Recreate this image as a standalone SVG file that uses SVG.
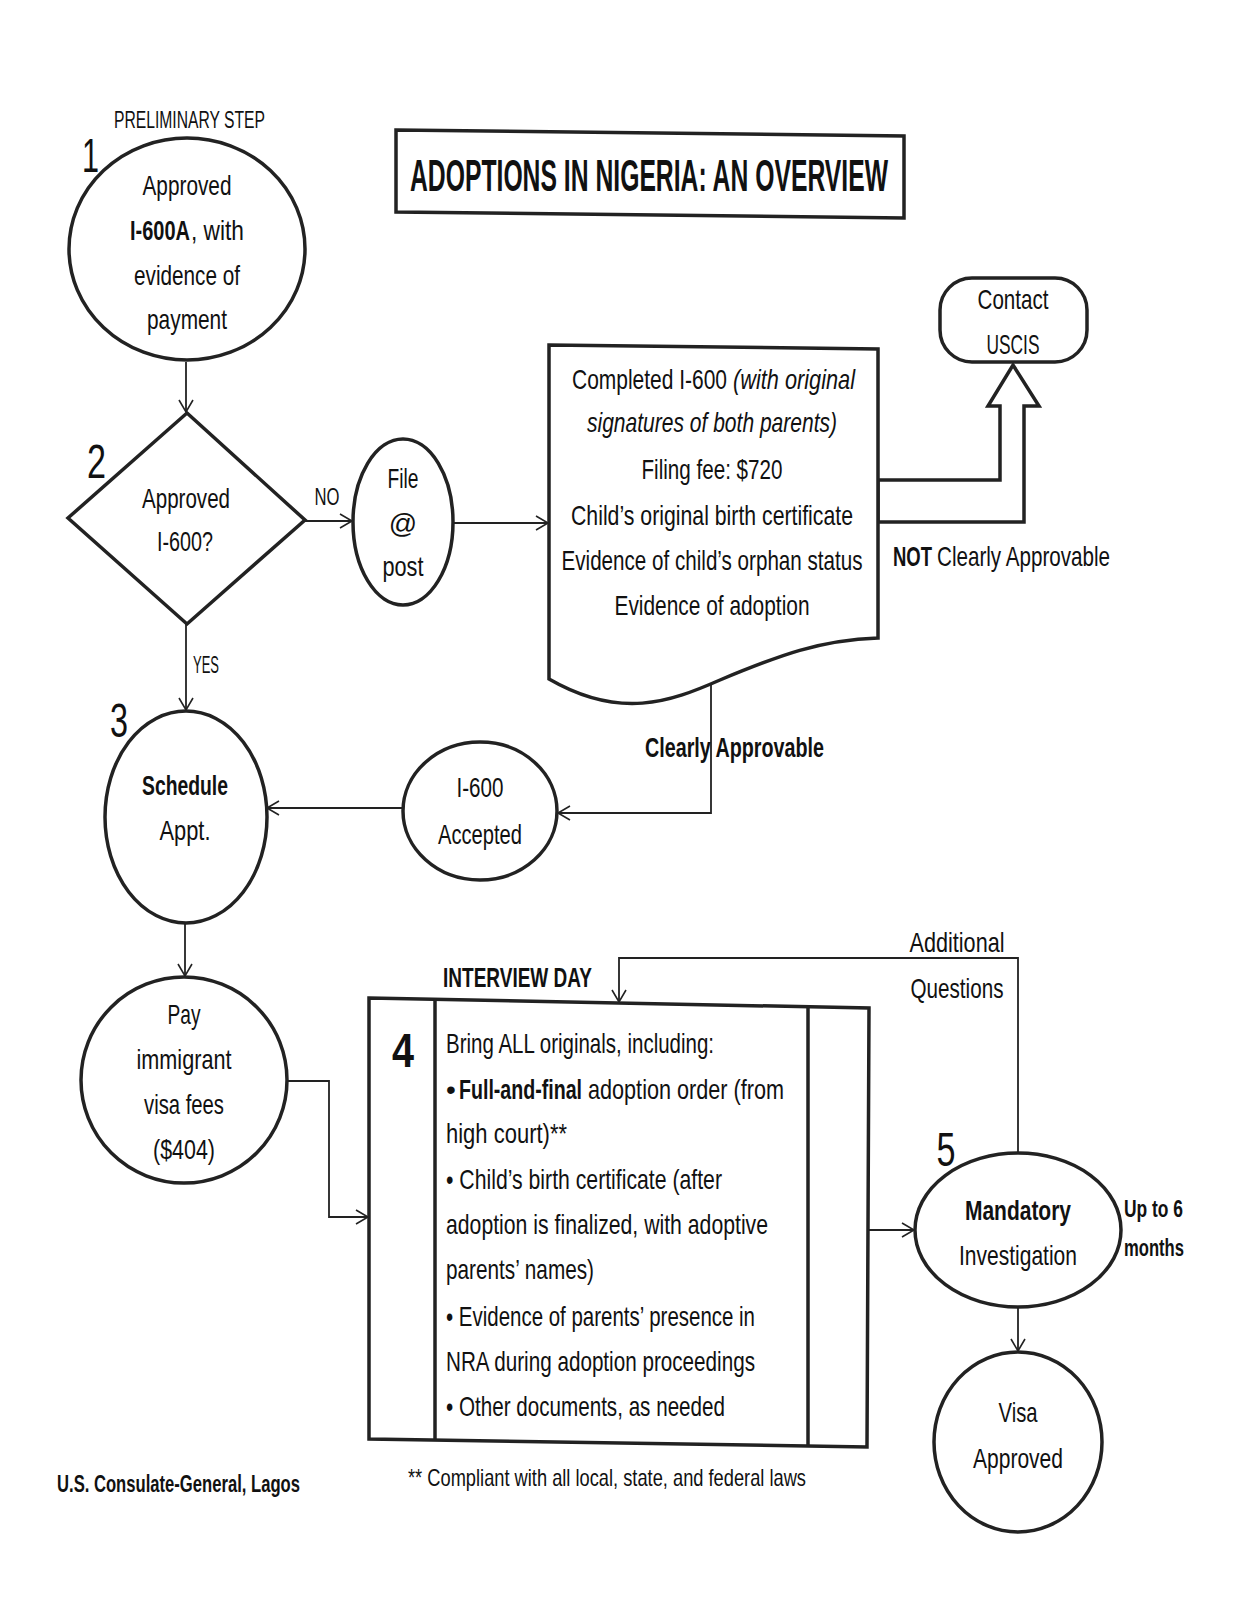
<svg xmlns="http://www.w3.org/2000/svg" width="1253" height="1600" viewBox="0 0 1253 1600">
<defs>
<marker id="arr" markerUnits="userSpaceOnUse" markerWidth="16" markerHeight="18" refX="13" refY="8" orient="auto">
<path d="M1,1 L13,8 L1,15" fill="none" stroke="#222" stroke-width="1.6"/>
</marker>
</defs>
<style>
.n{fill:#fff;stroke:#222;stroke-width:3.5}
.c{fill:none;stroke:#222;stroke-width:1.8}
text{font-family:"Liberation Sans Narrow","Liberation Sans",Arial,sans-serif;fill:#111;font-size:28px}
.m{text-anchor:middle}
.b{font-weight:bold}
.i{font-style:italic}
.s{font-size:24px}
.num{font-size:48px}
.ttl{font-size:44px;font-weight:bold}
.big4{font-size:48px;font-weight:bold}
</style>
<rect width="1253" height="1600" fill="#fff"/>

<g id="title">
<polygon class="n" points="396,130 904,136 904,218 396,212"/>
<text class="m ttl" x="649" y="191" textLength="478" lengthAdjust="spacingAndGlyphs">ADOPTIONS IN NIGERIA: AN OVERVIEW</text>
</g>

<g id="connectors">
<path class="c" d="M186,362 L186,412" marker-end="url(#arr)"/>
<path class="c" d="M305,521 L352,521" marker-end="url(#arr)"/>
<path class="c" d="M453,523 L548,523" marker-end="url(#arr)"/>
<path class="c" d="M186,624 L186,710" marker-end="url(#arr)"/>
<path class="c" d="M711,682 L711,813 L558,813" marker-end="url(#arr)"/>
<path class="c" d="M402,808 L267,808" marker-end="url(#arr)"/>
<path class="c" d="M185,923 L185,976" marker-end="url(#arr)"/>
<path class="c" d="M288,1081 L329,1081 L329,1217 L368,1217" marker-end="url(#arr)"/>
<path class="c" d="M869,1230 L914,1230" marker-end="url(#arr)"/>
<path class="c" d="M1018,1153 L1018,958 L619,958 L619,1002" marker-end="url(#arr)"/>
<path class="c" d="M1018,1306 L1018,1351" marker-end="url(#arr)"/>
<polygon class="n" points="878,480 1000,480 1000,406 988,406 1013,365 1039,406 1024,406 1024,522 878,522"/>
<text class="m s" x="327" y="505" textLength="25" lengthAdjust="spacingAndGlyphs">NO</text>
<text class="s" x="193" y="673" textLength="26" lengthAdjust="spacingAndGlyphs">YES</text>
<text class="b" x="893" y="566" textLength="39" lengthAdjust="spacingAndGlyphs">NOT</text>
<text x="937" y="566" textLength="173" lengthAdjust="spacingAndGlyphs">Clearly Approvable</text>
<text class="b" x="645" y="757" textLength="179" lengthAdjust="spacingAndGlyphs">Clearly Approvable</text>
<text class="m" x="957" y="952" textLength="95" lengthAdjust="spacingAndGlyphs">Additional</text>
<text class="m" x="957" y="998" textLength="93" lengthAdjust="spacingAndGlyphs">Questions</text>
</g>

<g id="node1">
<text x="114" y="128" class="s" textLength="151" lengthAdjust="spacingAndGlyphs">PRELIMINARY STEP</text>
<ellipse class="n" cx="187" cy="249" rx="118" ry="111"/>
<text x="82" y="172" class="num" textLength="17" lengthAdjust="spacingAndGlyphs">1</text>
<text class="m" x="187" y="195" textLength="89" lengthAdjust="spacingAndGlyphs">Approved</text>
<text class="b" x="130" y="240" textLength="60" lengthAdjust="spacingAndGlyphs">I-600A</text>
<text x="191" y="240" textLength="53" lengthAdjust="spacingAndGlyphs">, with</text>
<text class="m" x="187" y="285" textLength="106" lengthAdjust="spacingAndGlyphs">evidence of</text>
<text class="m" x="187" y="329" textLength="80" lengthAdjust="spacingAndGlyphs">payment</text>
</g>

<g id="node2">
<polygon class="n" points="187,413 305,520 187,624 68,518"/>
<text x="87" y="478" class="num" textLength="19" lengthAdjust="spacingAndGlyphs">2</text>
<text class="m" x="186" y="508" textLength="88" lengthAdjust="spacingAndGlyphs">Approved</text>
<text class="m" x="185" y="551" textLength="56" lengthAdjust="spacingAndGlyphs">I-600?</text>
</g>

<g id="filepost">
<ellipse class="n" cx="403" cy="522" rx="50" ry="83"/>
<text class="m" x="403" y="488" textLength="31" lengthAdjust="spacingAndGlyphs">File</text>
<text class="m" x="403" y="533">@</text>
<text class="m" x="403" y="576" textLength="41" lengthAdjust="spacingAndGlyphs">post</text>
</g>

<g id="document">
<path class="n" d="M549,345 L878,349 L878,638 C820,640 780,655 720,680 C670,702 620,720 549,679 Z"/>
<text x="572" y="389" textLength="155" lengthAdjust="spacingAndGlyphs">Completed I-600</text>
<text class="i" x="733" y="389" textLength="122" lengthAdjust="spacingAndGlyphs">(with original</text>
<text class="m i" x="712" y="432" textLength="250" lengthAdjust="spacingAndGlyphs">signatures of both parents)</text>
<text class="m" x="712" y="479" textLength="141" lengthAdjust="spacingAndGlyphs">Filing fee: $720</text>
<text class="m" x="712" y="525" textLength="282" lengthAdjust="spacingAndGlyphs">Child’s original birth certificate</text>
<text class="m" x="712" y="570" textLength="301" lengthAdjust="spacingAndGlyphs">Evidence of child’s orphan status</text>
<text class="m" x="712" y="615" textLength="195" lengthAdjust="spacingAndGlyphs">Evidence of adoption</text>
</g>

<g id="contact">
<rect class="n" x="940" y="278" width="147" height="84" rx="32" ry="32"/>
<text class="m" x="1013" y="309" textLength="71" lengthAdjust="spacingAndGlyphs">Contact</text>
<text class="m" x="1013" y="354" textLength="53" lengthAdjust="spacingAndGlyphs">USCIS</text>
</g>

<g id="accepted">
<ellipse class="n" cx="480" cy="811" rx="77" ry="69"/>
<text class="m" x="480" y="797" textLength="47" lengthAdjust="spacingAndGlyphs">I-600</text>
<text class="m" x="480" y="844" textLength="84" lengthAdjust="spacingAndGlyphs">Accepted</text>
</g>

<g id="node3">
<ellipse class="n" cx="186" cy="817" rx="81" ry="106"/>
<text x="110" y="737" class="num" textLength="18" lengthAdjust="spacingAndGlyphs">3</text>
<text class="m b" x="185" y="795" textLength="86" lengthAdjust="spacingAndGlyphs">Schedule</text>
<text class="m" x="185" y="840" textLength="51" lengthAdjust="spacingAndGlyphs">Appt.</text>
</g>

<g id="pay">
<ellipse class="n" cx="184" cy="1080" rx="103" ry="103"/>
<text class="m" x="184" y="1024" textLength="33" lengthAdjust="spacingAndGlyphs">Pay</text>
<text class="m" x="184" y="1069" textLength="95" lengthAdjust="spacingAndGlyphs">immigrant</text>
<text class="m" x="184" y="1114" textLength="80" lengthAdjust="spacingAndGlyphs">visa fees</text>
<text class="m" x="184" y="1159" textLength="62" lengthAdjust="spacingAndGlyphs">($404)</text>
</g>

<g id="node4">
<text class="b" x="443" y="987" textLength="149" lengthAdjust="spacingAndGlyphs">INTERVIEW DAY</text>
<polygon class="n" points="369,998 869,1008 867,1447 369,1439"/>
<line class="n" x1="435" y1="999" x2="435" y2="1440"/>
<line class="n" x1="808" y1="1007" x2="808" y2="1446"/>
<text class="m big4" x="403" y="1067" textLength="22" lengthAdjust="spacingAndGlyphs">4</text>
<text x="446" y="1053" textLength="268" lengthAdjust="spacingAndGlyphs">Bring ALL originals, including:</text>
<text x="446" y="1099">•</text>
<text class="b" x="459" y="1099" textLength="123" lengthAdjust="spacingAndGlyphs">Full-and-final</text>
<text x="588" y="1099" textLength="196" lengthAdjust="spacingAndGlyphs">adoption order (from</text>
<text x="446" y="1143" textLength="121" lengthAdjust="spacingAndGlyphs">high court)**</text>
<text x="446" y="1189" textLength="276" lengthAdjust="spacingAndGlyphs">• Child’s birth certificate (after</text>
<text x="446" y="1234" textLength="322" lengthAdjust="spacingAndGlyphs">adoption is finalized, with adoptive</text>
<text x="446" y="1279" textLength="148" lengthAdjust="spacingAndGlyphs">parents’ names)</text>
<text x="446" y="1326" textLength="309" lengthAdjust="spacingAndGlyphs">• Evidence of parents’ presence in</text>
<text x="446" y="1371" textLength="309" lengthAdjust="spacingAndGlyphs">NRA during adoption proceedings</text>
<text x="446" y="1416" textLength="279" lengthAdjust="spacingAndGlyphs">• Other documents, as needed</text>
</g>

<g id="node5">
<ellipse class="n" cx="1018" cy="1230" rx="103" ry="77"/>
<text class="m num" x="946" y="1166" textLength="19" lengthAdjust="spacingAndGlyphs">5</text>
<text class="m b" x="1018" y="1220" textLength="106" lengthAdjust="spacingAndGlyphs">Mandatory</text>
<text class="m" x="1018" y="1265" textLength="118" lengthAdjust="spacingAndGlyphs">Investigation</text>
<text class="b s" x="1124" y="1217" textLength="59" lengthAdjust="spacingAndGlyphs">Up to 6</text>
<text class="b s" x="1124" y="1256" textLength="60" lengthAdjust="spacingAndGlyphs">months</text>
</g>

<g id="visa">
<ellipse class="n" cx="1018" cy="1442" rx="84" ry="90"/>
<text class="m" x="1018" y="1422" textLength="39" lengthAdjust="spacingAndGlyphs">Visa</text>
<text class="m" x="1018" y="1468" textLength="90" lengthAdjust="spacingAndGlyphs">Approved</text>
</g>

<g id="footer">
<text class="b s" x="57" y="1492" textLength="243" lengthAdjust="spacingAndGlyphs">U.S. Consulate-General, Lagos</text>
<text class="s" x="408" y="1486" textLength="398" lengthAdjust="spacingAndGlyphs">** Compliant with all local,  state, and federal laws</text>
</g>
</svg>
